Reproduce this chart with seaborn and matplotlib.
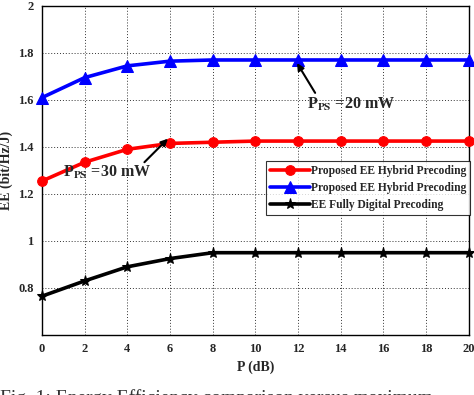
import matplotlib
matplotlib.use("Agg")
import matplotlib.pyplot as plt
import seaborn as sns

P_dB = [0, 2, 4, 6, 8, 10, 12, 14, 16, 18, 20]
ee_red = [1.255, 1.335, 1.39, 1.415, 1.42, 1.425, 1.425, 1.425, 1.425, 1.425, 1.425]
ee_blue = [1.61, 1.695, 1.745, 1.765, 1.77, 1.77, 1.77, 1.77, 1.77, 1.77, 1.77]
ee_black = [0.765, 0.83, 0.89, 0.925, 0.95, 0.95, 0.95, 0.95, 0.95, 0.95, 0.95]
labels = ["Proposed EE Hybrid Precoding", "Proposed EE Hybrid Precoding", "EE Fully Digital Precoding"]
yticks = [0.8, 1.0, 1.2, 1.4, 1.6, 1.8, 2.0]
ytick_labels = ["0.8", "1", "1.2", "1.4", "1.6", "1.8", "2"]
xticks = P_dB

sns.set_style("white")
plt.rcParams['font.family'] = ['Liberation Serif', 'DejaVu Serif']
plt.rcParams['font.weight'] = 'bold'
plt.rcParams['mathtext.fontset'] = 'stix'

fig = plt.figure(figsize=(4.74, 3.95), dpi=100)
ax = fig.add_axes([0.0886, 0.152, 0.9004, 0.833])

series = [(ee_red, "red", "o", 7), (ee_blue, "blue", "^", 8), (ee_black, "black", "*", 8)]
for (vals, col, mk, ms), lab in zip(series, labels):
    sns.lineplot(x=P_dB, y=vals, ax=ax, color=col, marker=mk, markersize=ms,
                 markeredgecolor=col, linewidth=2.6, label=lab, clip_on=False, zorder=3)

ax.set_xlim(0, 20)
ax.set_ylim(0.6, 2.0)
ax.set_xticks(xticks)
ax.set_xticklabels([str(v) for v in xticks], fontsize=9, fontweight='bold')
ax.set_yticks(yticks)
ax.set_yticklabels(ytick_labels, fontsize=9, fontweight='bold')
ax.grid(True, color='#333333', linestyle=(0, (1, 2)), linewidth=0.7)
for s in ax.spines.values():
    s.set_color('black')
    s.set_linewidth(1.0)
ax.tick_params(direction='in', length=4, color='black', pad=6)
ax.set_xlabel("P (dB)", fontsize=10, fontweight='bold', labelpad=4)
ax.set_ylabel("EE (bit/Hz/J)", fontsize=10, fontweight='bold', labelpad=4)

leg = ax.legend(loc='upper right', bbox_to_anchor=(1.003, 0.53), fontsize=8.3,
                frameon=True, fancybox=False, handlelength=3.4, handletextpad=0.1,
                borderpad=0.35, labelspacing=0.45, borderaxespad=0.0,
                prop={'family': 'Liberation Serif', 'weight': 'bold', 'size': 8.3})
leg.get_frame().set_edgecolor('black')
leg.get_frame().set_linewidth(0.8)

ax.annotate("", xy=(5.9, 1.435), xytext=(4.8, 1.335),
            arrowprops=dict(arrowstyle='-|>', color='black', lw=1.5, mutation_scale=10,
                            shrinkA=0, shrinkB=0))
ax.text(3.05, 1.294, r"P$_{\mathbf{PS}}$ =30 mW", fontsize=11.5, fontweight='bold',
        ha='center', va='center')
ax.annotate("", xy=(11.95, 1.757), xytext=(12.8, 1.63),
            arrowprops=dict(arrowstyle='-|>', color='black', lw=1.5, mutation_scale=10,
                            shrinkA=0, shrinkB=0))
ax.text(14.5, 1.583, r"P$_{\mathbf{PS}}$ =20 mW", fontsize=11.5, fontweight='bold',
        ha='center', va='center')

fig.text(0.0, -0.03, "Fig. 1: Energy Efficiency comparison versus maximum",
         fontsize=14, fontweight='normal', ha='left', va='bottom', color='#333333')

fig.savefig("out.png", dpi=100)
